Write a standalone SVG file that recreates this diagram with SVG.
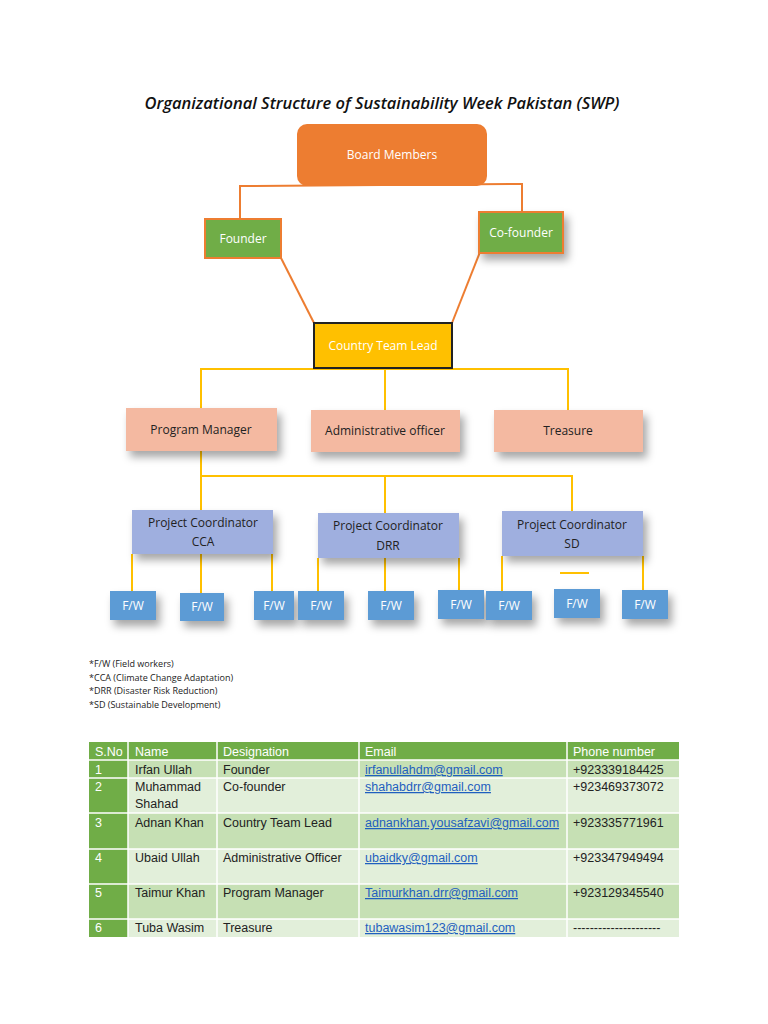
<svg xmlns="http://www.w3.org/2000/svg" width="768" height="1024" viewBox="0 0 768 1024">
<defs>
<filter id="sh" x="-20%" y="-20%" width="150%" height="180%"><feDropShadow dx="4" dy="6" stdDeviation="4" flood-color="#000" flood-opacity="0.35"/></filter>
</defs>
<style>
text{font-family:"Open Sans","Liberation Sans",sans-serif}
.t{font-size:12px;fill:#222;text-anchor:middle}
.w{font-size:12px;fill:#fff;text-anchor:middle}
.o{stroke:#ed7d31;stroke-width:2;fill:none}
.y{stroke:#ffc000;stroke-width:2;fill:none}
.fw{fill:#5b9bd5;filter:url(#sh)}
.pc{fill:#9fafdf;filter:url(#sh)}
.mg{fill:#f4b9a1;filter:url(#sh)}
.c{font-size:12.5px;fill:#222;font-family:"Liberation Sans",sans-serif}
.h{font-size:12.5px;fill:#fff;font-family:"Liberation Sans",sans-serif}
.l{font-size:12.5px;fill:#1f5fbf;text-decoration:underline;font-family:"Liberation Sans",sans-serif}
.n{font-size:9px;fill:#222}
</style>
<rect width="768" height="1024" fill="#fff"/>
<text x="382" y="109" font-size="16.5" font-weight="600" font-style="italic" text-anchor="middle" fill="#111" style="font-family:'Open Sans','Liberation Sans',sans-serif">Organizational Structure of Sustainability Week Pakistan (SWP)</text>
<g id="connectors">
<polyline class="o" points="240,219 240,186 522,184 522,212"/>
<line class="o" x1="281" y1="258" x2="314" y2="323"/>
<line class="o" x1="480" y1="252" x2="452" y2="323"/>
<polyline class="y" points="201,408 201,369 568,369 568,410"/>
<line class="y" x1="385" y1="369" x2="385" y2="410"/>
<line class="y" x1="201" y1="451" x2="201" y2="510"/>
<polyline class="y" points="201,476 572,476 572,511"/>
<line class="y" x1="385" y1="476" x2="385" y2="513"/>
<line class="y" x1="132" y1="554" x2="132" y2="592"/>
<line class="y" x1="201" y1="554" x2="201" y2="593"/>
<line class="y" x1="272" y1="554" x2="272" y2="591"/>
<line class="y" x1="318" y1="558" x2="318" y2="592"/>
<line class="y" x1="385" y1="558" x2="385" y2="591"/>
<line class="y" x1="459" y1="558" x2="459" y2="590"/>
<line class="y" x1="502" y1="556" x2="502" y2="591"/>
<line class="y" x1="643" y1="556" x2="643" y2="590"/>
<line class="y" x1="560" y1="573" x2="589" y2="573"/>
</g>
<g id="board"><rect x="297" y="124" width="190" height="62" rx="10" fill="#ed7d31"/><text class="w" x="392" y="159">Board Members</text></g>
<g id="founder"><rect x="205" y="219" width="76" height="39" fill="#70ad47" stroke="#ed7d31" stroke-width="2"/><text class="w" x="243" y="243">Founder</text></g>
<g id="cofounder"><rect x="479" y="212" width="84" height="41" fill="#70ad47" stroke="#ed7d31" stroke-width="2" filter="url(#sh)"/><text class="w" x="521" y="237">Co-founder</text></g>
<g id="ctl"><rect x="314" y="323" width="138" height="45" fill="#ffc000" stroke="#222" stroke-width="2"/><text class="w" x="383" y="350">Country Team Lead</text></g>
<g id="pm"><rect class="mg" x="126" y="408" width="151" height="43"/><text class="t" x="201" y="434">Program Manager</text></g>
<g id="ao"><rect class="mg" x="311" y="410" width="149" height="42"/><text class="t" x="385" y="435">Administrative officer</text></g>
<g id="tr"><rect class="mg" x="494" y="410" width="149" height="42"/><text class="t" x="568" y="435">Treasure</text></g>
<g id="pccca"><rect class="pc" x="132" y="510" width="141" height="44"/><text class="t" x="203" y="527">Project Coordinator</text><text class="t" x="203" y="546">CCA</text></g>
<g id="pcdrr"><rect class="pc" x="318" y="513" width="141" height="45"/><text class="t" x="388" y="530">Project Coordinator</text><text class="t" x="388" y="550">DRR</text></g>
<g id="pcsd"><rect class="pc" x="502" y="511" width="141" height="45"/><text class="t" x="572" y="529">Project Coordinator</text><text class="t" x="572" y="548">SD</text></g>
<g id="fw1"><rect class="fw" x="110" y="591" width="46" height="29"/><text class="w" x="133" y="610">F/W</text></g>
<g id="fw2"><rect class="fw" x="180" y="593" width="44" height="28"/><text class="w" x="202" y="611">F/W</text></g>
<g id="fw3"><rect class="fw" x="254" y="591" width="40" height="29"/><text class="w" x="274" y="610">F/W</text></g>
<g id="fw4"><rect class="fw" x="298" y="591" width="46" height="29"/><text class="w" x="321" y="610">F/W</text></g>
<g id="fw5"><rect class="fw" x="368" y="591" width="46" height="29"/><text class="w" x="391" y="610">F/W</text></g>
<g id="fw6"><rect class="fw" x="438" y="590" width="46" height="29"/><text class="w" x="461" y="609">F/W</text></g>
<g id="fw7"><rect class="fw" x="486" y="591" width="46" height="29"/><text class="w" x="509" y="610">F/W</text></g>
<g id="fw8"><rect class="fw" x="554" y="589" width="46" height="29"/><text class="w" x="577" y="608">F/W</text></g>
<g id="fw9"><rect class="fw" x="622" y="590" width="46" height="29"/><text class="w" x="645" y="609">F/W</text></g>
<g id="notes">
<text class="n" x="89" y="667">*F/W (Field workers)</text>
<text class="n" x="89" y="681">*CCA (Climate Change Adaptation)</text>
<text class="n" x="89" y="694">*DRR (Disaster Risk Reduction)</text>
<text class="n" x="89" y="708">*SD (Sustainable Development)</text>
</g>
<g id="table">
<rect x="89" y="742" width="590" height="18" fill="#70ad47"/>
<rect x="128" y="760" width="551" height="18" fill="#c6e0b4"/>
<rect x="128" y="778" width="551" height="35" fill="#e2efda"/>
<rect x="128" y="813" width="551" height="36" fill="#c6e0b4"/>
<rect x="128" y="849" width="551" height="35" fill="#e2efda"/>
<rect x="128" y="884" width="551" height="35" fill="#c6e0b4"/>
<rect x="128" y="919" width="551" height="18" fill="#e2efda"/>
<rect x="89" y="760" width="39" height="177" fill="#70ad47"/>
<g stroke="#fff" stroke-width="1.5">
<line x1="89" y1="760" x2="679" y2="760"/><line x1="89" y1="778" x2="679" y2="778"/><line x1="89" y1="813" x2="679" y2="813"/><line x1="89" y1="849" x2="679" y2="849"/><line x1="89" y1="884" x2="679" y2="884"/><line x1="89" y1="919" x2="679" y2="919"/>
<line x1="128" y1="742" x2="128" y2="937"/><line x1="217" y1="742" x2="217" y2="937"/><line x1="359" y1="742" x2="359" y2="937"/><line x1="567" y1="742" x2="567" y2="937"/>
</g>
<text class="h" x="95" y="756">S.No</text><text class="h" x="135" y="756">Name</text><text class="h" x="223" y="756">Designation</text><text class="h" x="365" y="756">Email</text><text class="h" x="573" y="756">Phone number</text>
<text class="h" x="95" y="774">1</text><text class="c" x="135" y="774">Irfan Ullah</text><text class="c" x="223" y="774">Founder</text><text class="l" x="365" y="774">irfanullahdm@gmail.com</text><text class="c" x="573" y="774">+923339184425</text>
<text class="h" x="95" y="791">2</text><text class="c" x="135" y="791">Muhammad</text><text class="c" x="135" y="808">Shahad</text><text class="c" x="223" y="791">Co-founder</text><text class="l" x="365" y="791">shahabdrr@gmail.com</text><text class="c" x="573" y="791">+923469373072</text>
<text class="h" x="95" y="827">3</text><text class="c" x="135" y="827">Adnan Khan</text><text class="c" x="223" y="827">Country Team Lead</text><text class="l" x="365" y="827">adnankhan.yousafzavi@gmail.com</text><text class="c" x="573" y="827">+923335771961</text>
<text class="h" x="95" y="862">4</text><text class="c" x="135" y="862">Ubaid Ullah</text><text class="c" x="223" y="862">Administrative Officer</text><text class="l" x="365" y="862">ubaidky@gmail.com</text><text class="c" x="573" y="862">+923347949494</text>
<text class="h" x="95" y="897">5</text><text class="c" x="135" y="897">Taimur Khan</text><text class="c" x="223" y="897">Program Manager</text><text class="l" x="365" y="897">Taimurkhan.drr@gmail.com</text><text class="c" x="573" y="897">+923129345540</text>
<text class="h" x="95" y="932">6</text><text class="c" x="135" y="932">Tuba Wasim</text><text class="c" x="223" y="932">Treasure</text><text class="l" x="365" y="932">tubawasim123@gmail.com</text><text class="c" x="573" y="932">---------------------</text>
</g>
</svg>
